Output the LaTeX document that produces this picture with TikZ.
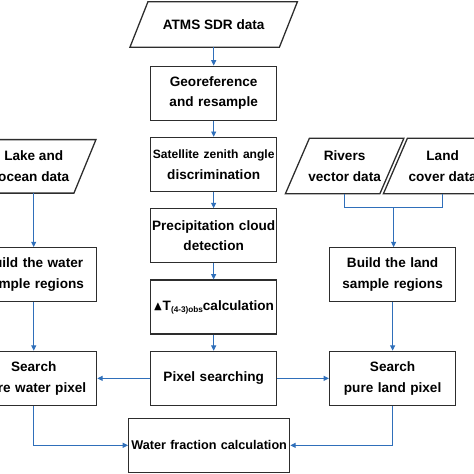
\documentclass[tikz,border=0pt]{standalone}
\usepackage{amsmath,amssymb}
\usepackage{fontspec}
\setmainfont{Liberation Sans}
\usepackage{xcolor}
\usepackage{tikz}
\usetikzlibrary{arrows.meta,calc,positioning}
\definecolor{boxgrey}{RGB}{45,45,45}
\definecolor{flowblue}{RGB}{47,111,186}
\tikzset{
  stepbox/.style={rectangle,draw=boxgrey,line width=1.1pt,
    minimum width=3.78cm,minimum height=1.62cm,align=center,
    text width=3.7cm,inner xsep=1pt,
    font=\bfseries\fontsize{11.6}{17.5}\selectfont},
  databox/.style={rectangle,align=center,inner sep=1pt,
    font=\bfseries\fontsize{11.6}{17.5}\selectfont},
  frame/.style={draw=boxgrey,line width=1.1pt,line join=miter},
  flow/.style={-{Triangle[length=1.6mm,width=1.5mm]},line width=0.8pt,draw=flowblue},
  link/.style={line width=0.8pt,draw=flowblue}
}
% slanted outline round a data node: #1 node, #2 half slant
\newcommand{\dataframe}[2]{%
  \draw[frame] ([xshift=-#2]#1.south west) -- ([xshift=#2]#1.north west)
    -- ([xshift=#2]#1.north east) -- ([xshift=-#2]#1.south east) -- cycle;}

\begin{document}
\begin{tikzpicture}[node distance=4.8mm and 16mm]
  \path[use as bounding box,clip] (0,0) rectangle (14.22,-14.22);
  % centre column
  \node[databox,minimum width=4.47cm,minimum height=1.35cm] (atms) at (6.41,-0.735)
    {ATMS SDR data};
  \node[stepbox,below=5.5mm of atms] (geo) {Georeference\\and resample};
  \node[stepbox,below=of geo] (zenith)
    {{\fontsize{10.3}{17.5}\selectfont Satellite zenith angle}\\discrimination};
  \node[stepbox,below=of zenith] (cloud) {Precipitation cloud\\detection};
  \node[stepbox,below=of cloud] (dtb)
    {{\fontsize{11}{12}\selectfont$\blacktriangle$}T{\fontsize{7}{8}\selectfont\raisebox{-0.45ex}{(4-3)obs}}calculation};
  \node[stepbox,below=of dtb] (pixel) {Pixel searching};
  \node[stepbox,minimum width=4.83cm,text width=4.76cm,below=3.5mm of pixel,
    xshift=-1.35mm,font=\bfseries\fontsize{10.8}{17.5}\selectfont] (fraction)
    {Water fraction calculation};
  % water side
  \node[stepbox,left=15.8mm of pixel] (searchw) {Search\\pure water pixel};
  \node[stepbox,above=1.45cm of searchw] (buildw) {Build the water\\sample regions};
  \node[databox,minimum width=3.06cm,minimum height=1.59cm,above=1.62cm of buildw]
    (lake) {Lake and\\ocean data};
  % land side
  \node[stepbox,right=15.5mm of pixel] (searchl) {Search\\pure land pixel};
  \node[stepbox,above=1.45cm of searchl] (buildl) {Build the land\\sample regions};
  \node[databox,minimum width=2.82cm,minimum height=1.65cm,above=1.6cm of buildl,
    xshift=-1.44cm] (rivers) {Rivers\\vector data};
  \node[databox,minimum width=2.82cm,minimum height=1.65cm,above=1.6cm of buildl,
    xshift=1.5cm] (land) {Land\\cover data};
  \dataframe{atms}{2.7mm}
  \dataframe{lake}{3.3mm}
  \dataframe{rivers}{3.6mm}
  \dataframe{land}{3.6mm}
  \coordinate (join) at ($(rivers.south)!0.5!(land.south)+(0,-0.42)$);
  % connectors
  \draw[flow] (atms) -- (geo);
  \draw[flow] (geo) -- (zenith);
  \draw[flow] (zenith) -- (cloud);
  \draw[flow] (cloud) -- (dtb);
  \draw[flow] (dtb) -- (pixel);
  \draw[flow] (pixel) -- (searchw);
  \draw[flow] (pixel) -- (searchl);
  \draw[flow] (lake) -- (buildw);
  \draw[flow] (buildw) -- (searchw);
  \draw[link] (rivers.south) |- (join) -| (land.south);
  \draw[flow] (join) -- (join |- buildl.north);
  \draw[flow] (buildl) -- (searchl);
  \draw[flow] (searchw.south) |- (fraction.west);
  \draw[flow] (searchl.south) |- (fraction.east);
\end{tikzpicture}
\end{document}
